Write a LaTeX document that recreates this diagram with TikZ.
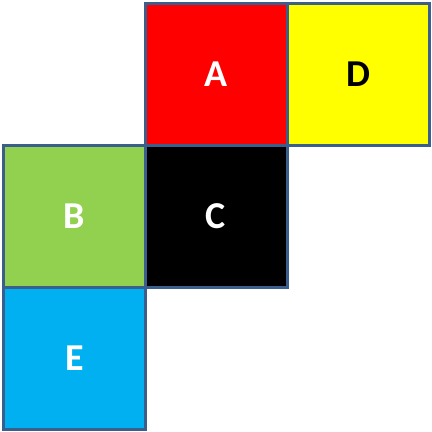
\documentclass[tikz,border=0pt]{standalone}
\usepackage{fontspec}
\setmainfont{Carlito}
\definecolor{bordc}{HTML}{3A5F8C}
\definecolor{cA}{HTML}{FF0000}
\definecolor{cD}{HTML}{FFFF00}
\definecolor{cB}{HTML}{92D050}
\definecolor{cC}{HTML}{000000}
\definecolor{cE}{HTML}{00B0F0}
\begin{document}
\begin{tikzpicture}[x=1pt,y=-1pt,
  sq/.style={draw=bordc,line width=3pt,minimum size=142pt,inner sep=0pt,outer sep=0pt,
    font=\fontsize{38}{42}\selectfont\bfseries}]
\useasboundingbox (0,0) rectangle (432,432);
\node[sq,fill=cA,text=white] (A) at (216,74.5) {A};
\node[sq,fill=cD,text=black] (D) at (358,74.5) {D};
\node[sq,fill=cB,text=white] (B) at (74.5,216) {B};
\node[sq,fill=cC,text=white] (C) at (216,216) {C};
\node[sq,fill=cE,text=white] (E) at (74.5,358) {E};
\end{tikzpicture}
\end{document}
